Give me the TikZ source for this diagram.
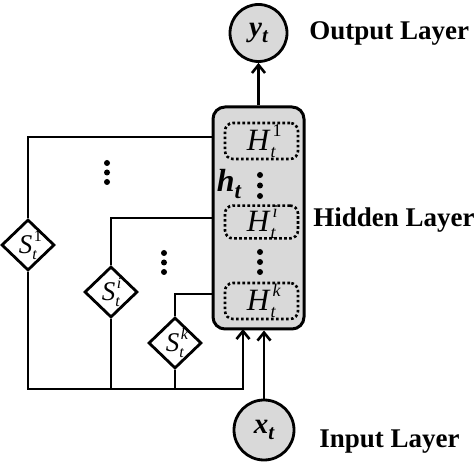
\documentclass[tikz,border=0pt]{standalone}
\usepackage{fontspec}
\setmainfont{Liberation Serif}
\usetikzlibrary{shapes.geometric,arrows.meta}
\definecolor{boxgray}{HTML}{D9D9D9}
% #1 base, #2 sub, #3 sup, #4 main size, #5 script size
\newcommand\myss[5]{{\fontsize{#4}{#4}\selectfont\textit{#1}\makebox[0pt][l]{\hspace{0.06em}\raisebox{0.45em}{\fontsize{#5}{#5}\selectfont #3}}\raisebox{-0.22em}{\fontsize{#5}{#5}\selectfont\textit{#2}}}}
\newcommand\mybsub[4]{{\fontsize{#3}{#3}\selectfont\bfseries\itshape #1\raisebox{-0.22em}{\fontsize{#4}{#4}\selectfont #2}}}
\begin{document}
\begin{tikzpicture}[x=1pt,y=-1pt,line width=2.8pt,
  arr/.style={-{Straight Barb[length=8pt,width=13pt,line width=2.6pt]}},
  sbox/.style={diamond,draw,fill=white,minimum width=53pt,minimum height=51pt,inner sep=0pt},
  hbox/.style={draw,dash pattern=on 2.6pt off 2.4pt,line width=2.6pt,rounded corners=8pt,minimum width=73pt,inner sep=0pt},
  layer/.style={anchor=west,inner sep=0pt,font=\bfseries\fontsize{27}{30}\selectfont},
  ball/.style={circle,draw,fill=boxgray,inner sep=0pt}]
\useasboundingbox (0,0) rectangle (474,462);
% hidden box
\node[draw,fill=boxgray,rounded corners=12pt,minimum width=91pt,minimum height=222pt,line width=3pt,inner sep=0pt] (hid) at (258.5,218) {};
\node[hbox,minimum height=36pt] (h1) at (261.5,141) {\myss{H}{t}{1}{31pt}{18pt}};
\node[hbox,minimum height=32pt] (hi) at (261.5,222) {\myss{H}{t}{\textit{i}}{31pt}{18pt}};
\node[hbox,minimum height=36pt] (hk) at (261.5,301) {\myss{H}{t}{\textit{k}}{31pt}{18pt}};
\node[inner sep=0pt] (ht) at (229,184) {\mybsub{h}{t}{32pt}{23pt}};
% dots in the box
\foreach \y in {175,185.5,196,252,262,272} \fill (260,\y) circle (3pt);
% dots outside
\foreach \y in {163,172.5,182} \fill (107,\y) circle (3pt);
\foreach \y in {253,262.5,272} \fill (164,\y) circle (3pt);
% diamonds
\node[sbox] (s1) at (28,245) {\myss{S}{t}{1}{27pt}{16pt}};
\node[sbox] (si) at (111,292) {\myss{S}{t}{\textit{i}}{27pt}{16pt}};
\node[sbox] (sk) at (175,343) {\myss{S}{t}{\textit{k}}{27pt}{16pt}};
% circles
\node[ball,minimum size=57pt] (yt) at (258.5,33) {\mybsub{y}{t}{29pt}{21pt}};
\node[ball,minimum size=60pt] (xt) at (264,430) {\mybsub{x}{t}{29pt}{21pt}};
% labels
\node[layer] (ol) at (308,33) {Output Layer};
\node[layer] (hl) at (312,220) {Hidden Layer};
\node[layer] (il) at (318,442) {Input Layer};
% coordinates
\coordinate (c1) at (214,137);
\coordinate (ci) at (214,218);
\coordinate (ck) at (214,294);
\coordinate (b1) at (28,389);
\coordinate (b2) at (243,389);
\coordinate (in1) at (243,329);
% connectors
\draw (s1.north) |- (c1);
\draw (si.north) |- (ci);
\draw (sk.north) |- (ck);
\draw[arr] (s1.south) -- (b1) -- (b2) -- (in1);
\draw (si.south) -- (si.south |- b1);
\draw (sk.south) -- (sk.south |- b1);
\draw[arr] (xt.north) -- (xt.north |- hid.south);
\draw[arr] (hid.north) -- (yt.south);
\end{tikzpicture}
\end{document}
